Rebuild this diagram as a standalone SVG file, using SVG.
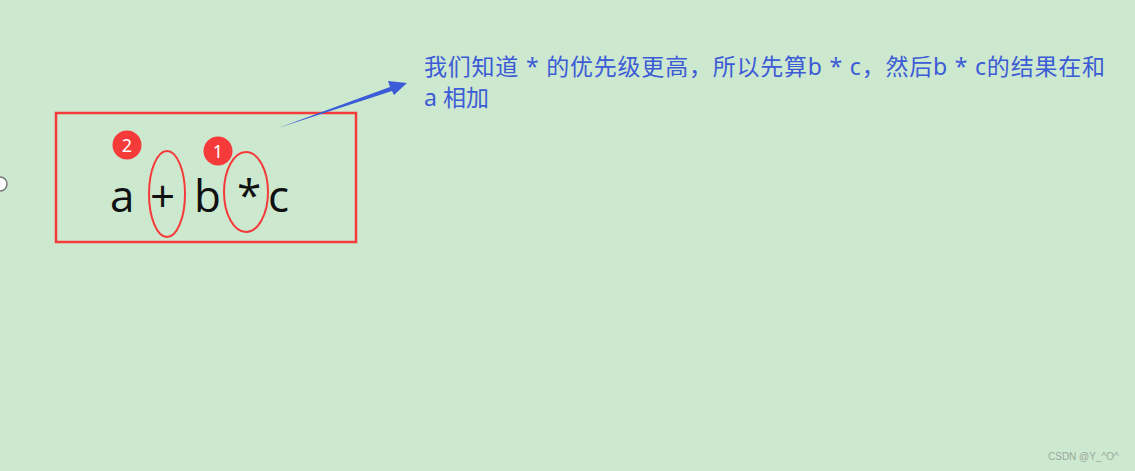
<svg xmlns="http://www.w3.org/2000/svg" width="1135" height="471" viewBox="0 0 1135 471">
<style>
.expr{font-family:"Open Sans","Noto Sans",sans-serif;font-size:44px;font-weight:500;fill:#111}
.note{font-family:"Noto Sans","Noto Sans CJK SC",sans-serif;font-size:23px;fill:#3c5bd6}
.badge{fill:#f53a3a}
.badgeT{font-family:"Noto Sans",sans-serif;font-size:18px;fill:#fff;text-anchor:middle}
.ring{fill:none;stroke:#f53a3a;stroke-width:2}
</style>
<rect width="1135" height="471" fill="#cce8cf"/>
<g id="handle"><circle cx="0" cy="184" r="7" fill="#fff" stroke="#777" stroke-width="1.5"/></g>
<g id="expression">
<rect x="56" y="113" width="300" height="129" fill="none" stroke="#f53a3a" stroke-width="2.5"/>
<text class="expr" x="110" y="212">a</text>
<text class="expr" x="150" y="212">+</text>
<text class="expr" x="194" y="212">b</text>
<text class="expr" x="237" y="211" font-size="32">*</text>
<text class="expr" x="268" y="212">c</text>
<ellipse class="ring" cx="167" cy="194" rx="18" ry="43"/>
<ellipse class="ring" cx="246" cy="192" rx="22" ry="40"/>
</g>
<g id="badge2"><circle class="badge" cx="127" cy="145" r="14.5"/><text class="badgeT" x="127" y="151.5">2</text></g>
<g id="badge1"><circle class="badge" cx="218" cy="151" r="14.5"/><text class="badgeT" x="218" y="157.5">1</text></g>
<g id="connectors">
<polygon points="278,128 390,87 388,81 407,83 394,95 392,91" fill="#3c5bd6"/>
</g>
<g id="note">
<text class="note" x="424" y="75" textLength="681" lengthAdjust="spacing">我们知道 * 的优先级更高，所以先算b * c，然后b * c的结果在和</text>
<text class="note" x="424" y="106">a 相加</text>
</g>
<text x="1048" y="460" font-family="Liberation Sans,sans-serif" font-size="10" fill="#9aa89c">CSDN @Y_^O^</text>
</svg>
